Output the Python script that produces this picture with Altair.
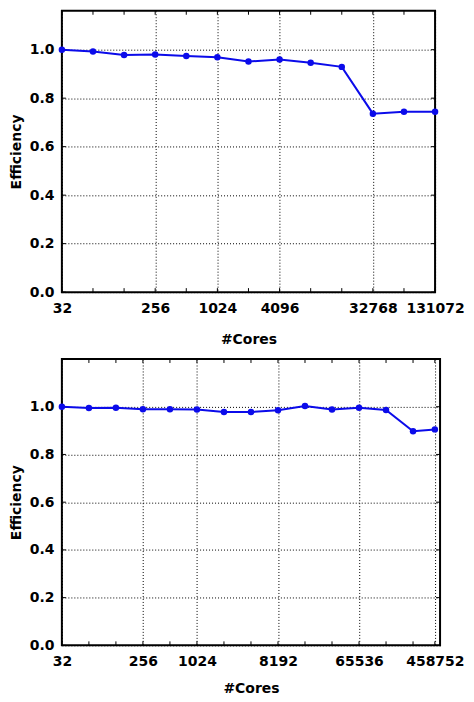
import altair as alt
import pandas as pd

# ---- data ----
cores_a = [32, 64, 128, 256, 512, 1024, 2048, 4096, 8192, 16384, 32768, 65536, 131072]
eff_a = [1.000, 0.992, 0.978, 0.980, 0.974, 0.969, 0.951, 0.959, 0.946, 0.929, 0.736, 0.744, 0.744]
xticks_a = [32, 256, 1024, 4096, 32768, 131072]

cores_b = [32, 64, 128, 256, 512, 1024, 2048, 4096, 8192, 16384, 32768, 65536, 131072, 262144, 458752]
eff_b = [1.000, 0.995, 0.996, 0.989, 0.989, 0.988, 0.978, 0.978, 0.985, 1.003, 0.988, 0.996, 0.986, 0.897, 0.905]
xticks_b = [32, 256, 1024, 8192, 65536, 458752]

yticks = [0.0, 0.2, 0.4, 0.6, 0.8, 1.0]

BLUE = "#0b0bea"
FONT = "DejaVu Sans"


def panel(cores, eff, xticks, xmax, ymax, w, h, title_pad):
    df = pd.DataFrame({"cores": cores, "eff": eff})
    xs = alt.Scale(type="log", base=2, domain=[32, xmax], nice=False)
    ys = alt.Scale(domain=[0, ymax], nice=False, zero=False)
    x = alt.X("cores:Q", scale=xs,
              axis=alt.Axis(values=xticks, format="d", title="#Cores",
                            labelFlush=False, labelOverlap=False,
                            labelPadding=9, titlePadding=title_pad))
    y = alt.Y("eff:Q", scale=ys,
              axis=alt.Axis(values=yticks, format=".1f", title="Efficiency",
                            labelPadding=8, titlePadding=6))
    line = alt.Chart(df).mark_line(color=BLUE, strokeWidth=2).encode(x=x, y=y)
    pts = alt.Chart(df).mark_point(filled=True, size=42, color=BLUE, opacity=1).encode(x=x, y=y)

    tdf = pd.DataFrame({"cores": cores})
    tick_bot = alt.Chart(tdf).mark_rule(color="black", strokeWidth=1).encode(
        x=alt.X("cores:Q"), y=alt.value(h), y2=alt.value(h - 4))
    tick_top = alt.Chart(tdf).mark_rule(color="black", strokeWidth=1).encode(
        x=alt.X("cores:Q"), y=alt.value(0), y2=alt.value(4))

    ydf = pd.DataFrame({"eff": yticks})
    tick_l = alt.Chart(ydf).mark_rule(color="black", strokeWidth=1).encode(
        y=alt.Y("eff:Q"), x=alt.value(0), x2=alt.value(4))
    tick_r = alt.Chart(ydf).mark_rule(color="black", strokeWidth=1).encode(
        y=alt.Y("eff:Q"), x=alt.value(w), x2=alt.value(w - 4))

    return alt.layer(tick_bot, tick_top, tick_l, tick_r, line, pts).properties(width=w, height=h)


top = panel(cores_a, eff_a, xticks_a, 131072, 1.1605, 374, 282, 17)
bottom = panel(cores_b, eff_b, xticks_b, 524288, 1.2, 379, 287, 13)

chart = alt.vconcat(top, bottom, spacing=10).properties(
    padding={"left": 0, "top": 0, "right": 0, "bottom": 0}
).configure_view(
    stroke="black", strokeWidth=2
).configure_axis(
    domain=False, ticks=False, tickSize=0,
    grid=True, gridColor="black", gridDash=[1, 2], gridWidth=1, gridOpacity=1,
    labelFont=FONT, labelFontSize=14, labelFontWeight="bold", labelColor="black",
    titleFont=FONT, titleFontSize=14, titleFontWeight="bold", titleColor="black",
)

chart.save("out.html", embed_options={"renderer": "svg", "actions": False})
